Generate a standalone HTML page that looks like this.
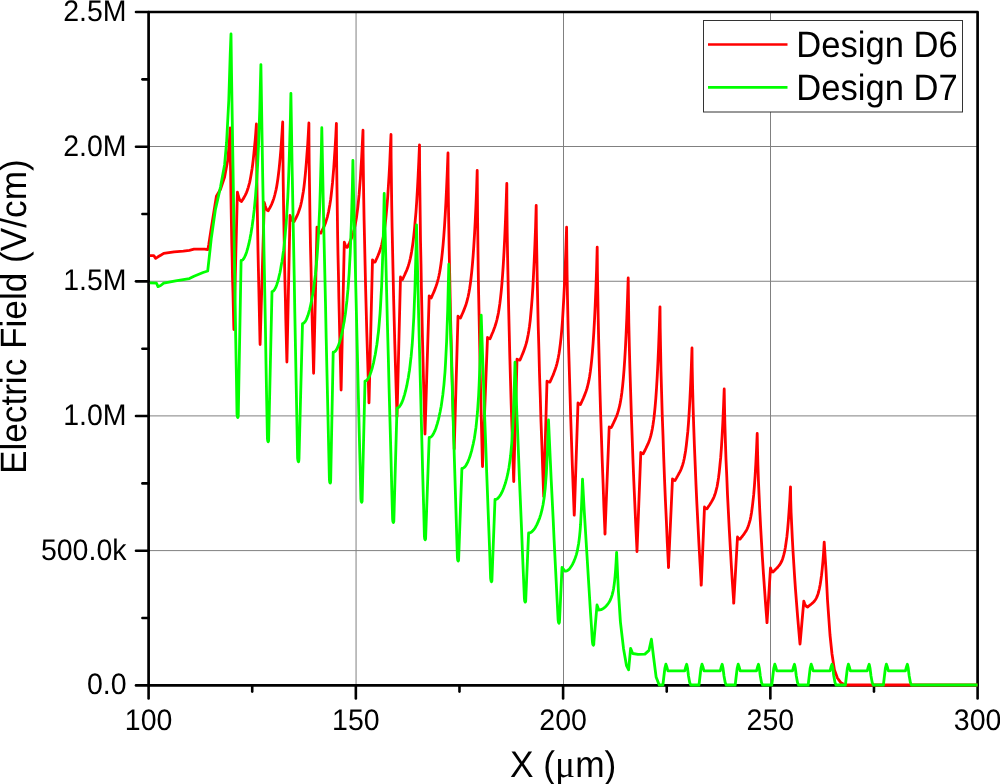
<!DOCTYPE html>
<html><head><meta charset="utf-8"><title>Electric Field</title>
<style>html,body{margin:0;padding:0;background:#fff;}svg{display:block;font-family:"Liberation Sans", Arial, Helvetica, sans-serif;text-rendering:geometricPrecision;}</style>
</head><body>
<svg width="1000" height="784" viewBox="0 0 1000 784">
<rect width="1000" height="784" fill="#fff"/>
<line x1="148.6" y1="146.50" x2="977.6" y2="146.50" stroke="#808080" stroke-width="1"/>
<line x1="148.6" y1="281.25" x2="977.6" y2="281.25" stroke="#808080" stroke-width="1"/>
<line x1="148.6" y1="415.90" x2="977.6" y2="415.90" stroke="#808080" stroke-width="1"/>
<line x1="148.6" y1="550.60" x2="977.6" y2="550.60" stroke="#808080" stroke-width="1"/>
<line x1="356.05" y1="12.0" x2="356.05" y2="685.4" stroke="#808080" stroke-width="1"/>
<line x1="563.50" y1="12.0" x2="563.50" y2="685.4" stroke="#808080" stroke-width="1"/>
<line x1="770.50" y1="12.0" x2="770.50" y2="685.4" stroke="#808080" stroke-width="1"/>
<rect x="148.6" y="12.0" width="829.00" height="673.40" fill="none" stroke="#000" stroke-width="2.7" stroke-linejoin="round"/>
<line x1="136.00" y1="685.40" x2="148.6" y2="685.40" stroke="#000" stroke-width="2.6" stroke-linecap="round"/>
<line x1="142.40" y1="618.06" x2="148.6" y2="618.06" stroke="#000" stroke-width="2.6" stroke-linecap="round"/>
<line x1="136.00" y1="550.72" x2="148.6" y2="550.72" stroke="#000" stroke-width="2.6" stroke-linecap="round"/>
<line x1="142.40" y1="483.38" x2="148.6" y2="483.38" stroke="#000" stroke-width="2.6" stroke-linecap="round"/>
<line x1="136.00" y1="416.04" x2="148.6" y2="416.04" stroke="#000" stroke-width="2.6" stroke-linecap="round"/>
<line x1="142.40" y1="348.70" x2="148.6" y2="348.70" stroke="#000" stroke-width="2.6" stroke-linecap="round"/>
<line x1="136.00" y1="281.36" x2="148.6" y2="281.36" stroke="#000" stroke-width="2.6" stroke-linecap="round"/>
<line x1="142.40" y1="214.02" x2="148.6" y2="214.02" stroke="#000" stroke-width="2.6" stroke-linecap="round"/>
<line x1="136.00" y1="146.68" x2="148.6" y2="146.68" stroke="#000" stroke-width="2.6" stroke-linecap="round"/>
<line x1="142.40" y1="79.34" x2="148.6" y2="79.34" stroke="#000" stroke-width="2.6" stroke-linecap="round"/>
<line x1="136.00" y1="12.00" x2="148.6" y2="12.00" stroke="#000" stroke-width="2.6" stroke-linecap="round"/>
<line x1="148.60" y1="685.4" x2="148.60" y2="698.40" stroke="#000" stroke-width="2.6" stroke-linecap="round"/>
<line x1="252.22" y1="685.4" x2="252.22" y2="691.60" stroke="#000" stroke-width="2.6" stroke-linecap="round"/>
<line x1="355.85" y1="685.4" x2="355.85" y2="698.40" stroke="#000" stroke-width="2.6" stroke-linecap="round"/>
<line x1="459.48" y1="685.4" x2="459.48" y2="691.60" stroke="#000" stroke-width="2.6" stroke-linecap="round"/>
<line x1="563.10" y1="685.4" x2="563.10" y2="698.40" stroke="#000" stroke-width="2.6" stroke-linecap="round"/>
<line x1="666.73" y1="685.4" x2="666.73" y2="691.60" stroke="#000" stroke-width="2.6" stroke-linecap="round"/>
<line x1="770.35" y1="685.4" x2="770.35" y2="698.40" stroke="#000" stroke-width="2.6" stroke-linecap="round"/>
<line x1="873.98" y1="685.4" x2="873.98" y2="691.60" stroke="#000" stroke-width="2.6" stroke-linecap="round"/>
<line x1="977.60" y1="685.4" x2="977.60" y2="698.40" stroke="#000" stroke-width="2.6" stroke-linecap="round"/>
<path d="M149.9 255.7L153.8 255.7L155.7 258.3L158.0 256.8L161.1 255.0L163.7 253.4L174.1 251.8L183.3 251.2L189.4 250.3L194.0 249.2L204.7 249.2L207.7 249.7L208.7 245.0L211.3 228.0L216.4 196.3L220.5 189.2L224.6 177.0L227.7 160.6L229.3 142.2L230.2 128.0L230.3 144.5L230.4 161.1L230.7 177.6L230.9 194.2L231.2 210.7L231.5 227.2L231.8 243.8L232.2 260.3L232.5 276.9L233.0 293.4L233.4 310.0L233.8 326.5L233.9 328.8L233.9 329.5L233.9 328.8L234.0 326.5L237.4 192.2L238.4 196.3L239.4 199.2L240.5 200.9L241.5 201.5L242.1 200.5L242.7 199.6L243.4 198.6L244.0 197.5L244.6 196.4L245.2 195.3L245.8 194.0L246.5 192.6L247.1 191.0L247.7 189.3L248.3 187.3L248.9 185.1L249.6 182.6L250.2 179.7L250.8 176.5L251.4 172.9L252.1 168.8L252.7 164.2L253.3 159.1L253.9 153.5L254.5 147.2L255.2 140.2L255.8 132.5L256.4 124.0L256.4 124.0L256.5 142.1L256.6 160.3L256.9 178.4L257.1 196.5L257.4 214.7L257.7 232.8L258.0 250.9L258.4 269.1L258.8 287.2L259.2 305.3L259.6 323.5L260.0 341.6L260.1 343.9L260.1 344.6L260.1 343.9L260.2 341.6L264.3 202.5L265.3 206.1L266.2 208.7L267.2 210.3L268.2 210.8L268.8 209.7L269.4 208.6L270.0 207.5L270.6 206.3L271.2 205.1L271.8 203.8L272.4 202.4L273.0 200.8L273.6 199.1L274.2 197.2L274.8 195.0L275.4 192.5L276.1 189.6L276.7 186.4L277.3 182.8L277.9 178.7L278.5 174.0L279.1 168.8L279.7 162.9L280.3 156.4L280.9 149.1L281.5 140.9L282.1 131.9L282.7 122.0L282.7 122.0L282.8 141.8L283.0 161.5L283.2 181.2L283.5 201.0L283.8 220.8L284.2 240.5L284.5 260.2L284.9 280.0L285.4 299.8L285.8 319.5L286.3 339.2L286.8 359.0L286.9 361.2L286.9 362.0L286.9 361.2L287.0 359.0L290.0 215.4L291.0 218.1L292.1 220.1L293.1 221.2L294.1 221.6L294.7 220.4L295.3 219.2L296.0 218.0L296.6 216.7L297.2 215.4L297.8 214.0L298.4 212.5L299.0 210.8L299.6 209.0L300.3 206.9L300.9 204.5L301.5 201.8L302.1 198.7L302.7 195.2L303.4 191.2L304.0 186.7L304.6 181.5L305.2 175.7L305.8 169.2L306.4 161.9L307.0 153.6L307.7 144.5L308.3 134.3L308.9 123.0L308.9 123.0L309.0 143.6L309.2 164.2L309.5 184.8L309.8 205.4L310.1 226.0L310.5 246.7L311.0 267.3L311.4 287.9L311.9 308.5L312.4 329.1L313.0 349.7L313.5 370.3L313.6 372.6L313.6 373.3L313.6 372.6L313.7 370.3L317.0 227.1L317.9 229.7L318.9 231.6L319.9 232.7L320.8 233.1L321.4 231.8L322.1 230.5L322.8 229.2L323.4 227.8L324.1 226.4L324.7 224.9L325.4 223.2L326.0 221.4L326.6 219.4L327.3 217.1L327.9 214.5L328.6 211.6L329.2 208.2L329.9 204.4L330.6 200.0L331.2 195.0L331.8 189.3L332.5 182.9L333.1 175.6L333.8 167.3L334.4 158.1L335.1 147.7L335.8 136.2L336.4 123.3L336.4 123.3L336.5 145.3L336.7 167.2L337.0 189.2L337.3 211.2L337.6 233.2L338.0 255.1L338.5 277.1L338.9 299.1L339.4 321.1L339.9 343.1L340.5 365.0L341.0 387.0L341.1 389.2L341.1 390.0L341.1 389.2L341.2 387.0L344.3 242.2L345.1 244.5L345.8 246.1L346.6 247.1L347.3 247.4L348.0 246.0L348.6 244.7L349.3 243.3L349.9 241.9L350.6 240.4L351.2 238.8L351.9 237.1L352.5 235.2L353.2 233.1L353.8 230.8L354.5 228.1L355.1 225.1L355.8 221.6L356.5 217.5L357.1 212.9L357.8 207.6L358.4 201.6L359.1 194.7L359.7 186.9L360.4 178.0L361.0 168.1L361.7 156.8L362.3 144.3L363.0 130.2L363.0 130.2L363.1 152.7L363.4 175.2L363.7 197.6L364.1 220.1L364.6 242.5L365.1 265.0L365.6 287.5L366.2 309.9L366.8 332.4L367.5 354.8L368.2 377.3L368.9 399.8L368.9 402.0L369.0 402.8L369.0 402.0L369.1 399.8L372.5 259.8L373.1 260.8L373.8 261.6L374.4 262.1L375.0 262.2L375.7 260.8L376.3 259.3L377.0 257.9L377.7 256.3L378.3 254.8L379.0 253.1L379.7 251.3L380.3 249.3L381.0 247.1L381.7 244.6L382.3 241.8L383.0 238.5L383.7 234.8L384.3 230.5L385.0 225.5L385.7 219.8L386.3 213.3L387.0 205.8L387.7 197.2L388.3 187.5L389.0 176.5L389.7 164.1L390.3 150.1L391.0 134.5L391.0 134.5L391.1 157.8L391.4 181.0L391.7 204.2L392.1 227.5L392.6 250.8L393.1 274.0L393.6 297.2L394.2 320.5L394.8 343.8L395.5 367.0L396.2 390.2L396.9 413.5L396.9 415.8L397.0 416.5L397.0 415.8L397.1 413.5L400.5 277.0L401.0 278.1L401.5 278.9L402.0 279.3L402.5 279.5L403.2 278.0L403.9 276.5L404.6 275.0L405.3 273.4L406.0 271.8L406.8 270.1L407.5 268.2L408.2 266.2L408.9 263.9L409.6 261.4L410.3 258.5L411.0 255.1L411.7 251.3L412.4 246.8L413.1 241.7L413.8 235.7L414.5 228.8L415.2 220.9L416.0 211.9L416.7 201.6L417.4 189.9L418.1 176.6L418.8 161.6L419.5 144.8L419.5 144.8L419.6 168.6L419.9 192.5L420.2 216.3L420.5 240.2L421.0 264.0L421.4 287.9L421.9 311.7L422.4 335.6L423.0 359.4L423.6 383.3L424.3 407.1L424.9 431.0L425.0 433.2L425.0 434.0L425.0 433.2L425.1 431.0L429.2 295.8L429.8 296.7L430.2 297.4L430.8 297.9L431.2 298.0L431.9 296.4L432.6 294.8L433.3 293.2L434.0 291.6L434.7 289.9L435.4 288.1L436.1 286.1L436.8 284.0L437.5 281.7L438.2 279.0L438.9 276.0L439.6 272.5L440.3 268.4L441.0 263.7L441.7 258.2L442.4 251.9L443.1 244.6L443.8 236.1L444.5 226.3L445.2 215.2L445.9 202.4L446.6 187.9L447.3 171.5L448.0 153.0L448.0 153.0L448.1 177.4L448.4 201.8L448.8 226.2L449.2 250.7L449.7 275.1L450.2 299.5L450.7 323.9L451.4 348.3L452.0 372.8L452.7 397.2L453.4 421.6L454.2 446.0L454.2 448.2L454.2 449.0L454.3 448.2L454.3 446.0L458.0 316.2L458.6 317.0L459.2 317.6L459.9 317.9L460.5 318.0L461.2 316.4L461.9 314.8L462.6 313.2L463.3 311.6L464.0 309.9L464.7 308.1L465.4 306.2L466.1 304.2L466.8 301.8L467.5 299.2L468.2 296.2L468.9 292.7L469.6 288.7L470.3 284.0L471.0 278.5L471.7 272.1L472.4 264.7L473.1 256.1L473.8 246.2L474.5 234.8L475.2 221.7L475.9 206.7L476.6 189.7L477.2 170.5L477.2 170.5L477.4 194.9L477.6 219.3L477.9 243.8L478.2 268.2L478.6 292.6L479.1 317.0L479.6 341.4L480.1 365.8L480.6 390.2L481.2 414.7L481.8 439.1L482.4 463.5L482.5 465.8L482.5 466.5L482.6 465.8L482.6 463.5L487.5 337.5L488.1 338.0L488.8 338.4L489.4 338.7L490.0 338.8L490.7 337.1L491.4 335.5L492.1 333.8L492.8 332.2L493.5 330.4L494.2 328.6L494.9 326.7L495.6 324.5L496.3 322.2L497.0 319.5L497.7 316.4L498.4 312.9L499.1 308.7L499.8 303.9L500.5 298.2L501.2 291.6L501.9 283.8L502.6 274.8L503.3 264.3L504.0 252.2L504.7 238.3L505.4 222.4L506.1 204.2L506.8 183.5L506.8 183.5L506.9 208.1L507.2 232.7L507.6 257.2L508.1 281.8L508.6 306.4L509.2 331.0L509.8 355.6L510.5 380.2L511.2 404.8L512.0 429.3L512.8 453.9L513.6 478.5L513.7 480.8L513.7 481.5L513.8 480.8L513.8 478.5L517.0 359.2L517.8 359.6L518.5 359.8L519.2 360.0L520.0 360.0L520.7 358.4L521.4 356.8L522.0 355.2L522.7 353.6L523.4 351.9L524.1 350.1L524.7 348.3L525.4 346.2L526.1 343.9L526.8 341.4L527.4 338.4L528.1 334.9L528.8 330.9L529.5 326.2L530.2 320.6L530.8 314.1L531.5 306.4L532.2 297.5L532.9 287.1L533.5 275.0L534.2 261.0L534.9 244.9L535.6 226.5L536.2 205.5L536.2 205.5L536.4 229.5L536.8 253.5L537.2 277.5L537.7 301.5L538.2 325.5L538.9 349.5L539.5 373.5L540.3 397.5L541.0 421.5L541.9 445.5L542.7 469.5L543.6 493.5L543.7 495.8L543.7 496.5L543.8 495.8L543.8 493.5L547.0 381.2L547.8 381.6L548.5 381.8L549.2 382.0L550.0 382.0L550.7 380.4L551.4 378.9L552.1 377.3L552.8 375.7L553.5 374.1L554.1 372.4L554.8 370.5L555.5 368.5L556.2 366.3L556.9 363.8L557.6 360.9L558.3 357.6L559.0 353.7L559.7 349.0L560.4 343.5L561.1 337.1L561.8 329.5L562.5 320.5L563.1 310.1L563.8 297.9L564.5 283.8L565.2 267.5L565.9 248.7L566.6 227.2L566.6 227.2L566.8 251.0L567.1 274.7L567.5 298.5L568.0 322.2L568.6 346.0L569.3 369.7L570.0 393.5L570.7 417.2L571.5 441.0L572.3 464.7L573.2 488.5L574.1 512.2L574.2 514.5L574.2 515.2L574.3 514.5L574.4 512.2L578.0 403.0L578.6 403.7L579.2 404.1L579.9 404.4L580.5 404.5L581.2 402.9L581.9 401.4L582.6 399.8L583.3 398.3L584.0 396.6L584.7 394.9L585.4 393.1L586.1 391.2L586.8 389.0L587.5 386.5L588.2 383.7L588.9 380.4L589.6 376.5L590.3 371.9L591.0 366.4L591.7 359.9L592.4 352.2L593.1 343.2L593.8 332.6L594.5 320.1L595.2 305.6L595.9 288.9L596.6 269.5L597.2 247.2L597.2 247.2L597.4 270.9L597.8 294.5L598.2 318.2L598.7 341.8L599.3 365.5L599.9 389.1L600.6 412.7L601.4 436.4L602.2 460.0L603.1 483.7L603.9 507.3L604.9 531.0L604.9 533.2L605.0 534.0L605.1 533.2L605.1 531.0L609.2 427.0L609.8 427.2L610.2 427.4L610.8 427.5L611.2 427.5L612.0 426.1L612.7 424.6L613.4 423.2L614.1 421.7L614.8 420.2L615.5 418.6L616.2 417.0L616.9 415.2L617.6 413.2L618.3 410.9L619.0 408.3L619.8 405.2L620.5 401.6L621.2 397.3L621.9 392.2L622.6 386.1L623.3 378.9L624.0 370.3L624.7 360.2L625.4 348.3L626.1 334.4L626.8 318.3L627.5 299.6L628.2 278.0L628.2 278.0L628.5 300.5L628.8 323.1L629.3 345.6L629.9 368.2L630.6 390.7L631.3 413.2L632.1 435.8L632.9 458.3L633.8 480.8L634.8 503.4L635.8 525.9L636.9 548.5L636.9 550.7L637.0 551.5L637.0 550.7L637.1 548.5L640.8 452.5L641.4 453.0L642.0 453.4L642.6 453.7L643.2 453.8L643.9 452.4L644.6 451.0L645.3 449.6L646.0 448.2L646.7 446.7L647.4 445.2L648.1 443.7L648.8 441.9L649.5 440.0L650.2 437.9L650.9 435.4L651.6 432.4L652.3 429.0L653.0 424.8L653.7 419.9L654.4 414.0L655.1 406.9L655.8 398.6L656.5 388.6L657.2 376.9L657.9 363.1L658.6 347.1L659.3 328.4L660.0 306.8L660.0 306.8L660.2 328.2L660.6 349.7L661.0 371.2L661.6 392.7L662.2 414.1L663.0 435.6L663.7 457.1L664.5 478.6L665.4 500.1L666.4 521.5L667.3 543.0L668.4 564.5L668.4 566.8L668.5 567.5L668.6 566.8L668.6 564.5L672.5 478.8L673.1 479.5L673.8 480.1L674.4 480.4L675.0 480.5L675.7 479.3L676.4 478.1L677.1 476.8L677.8 475.6L678.5 474.3L679.2 473.0L680.0 471.6L680.7 470.1L681.4 468.5L682.1 466.6L682.8 464.4L683.5 461.8L684.2 458.8L684.9 455.1L685.6 450.8L686.3 445.5L687.0 439.2L687.8 431.7L688.5 422.8L689.2 412.2L689.9 399.7L690.6 385.0L691.3 367.9L692.0 348.0L692.0 348.0L692.2 367.5L692.6 387.0L693.1 406.6L693.7 426.1L694.4 445.6L695.2 465.1L696.0 484.6L696.9 504.1L697.9 523.7L698.9 543.2L700.0 562.7L701.1 582.2L701.1 584.5L701.2 585.2L701.3 584.5L701.4 582.2L704.5 507.0L705.1 507.8L705.8 508.3L706.4 508.6L707.0 508.8L707.7 507.7L708.4 506.6L709.2 505.5L709.9 504.4L710.6 503.3L711.3 502.2L712.0 500.9L712.8 499.6L713.5 498.2L714.2 496.5L714.9 494.6L715.6 492.4L716.3 489.7L717.1 486.5L717.8 482.6L718.5 477.9L719.2 472.3L719.9 465.5L720.7 457.4L721.4 447.8L722.1 436.4L722.8 423.0L723.5 407.3L724.2 389.0L724.2 389.0L724.5 406.6L724.9 424.2L725.4 441.8L726.0 459.4L726.8 477.0L727.5 494.6L728.4 512.2L729.3 529.8L730.3 547.4L731.3 565.0L732.4 582.6L733.6 600.2L733.6 602.5L733.7 603.2L733.8 602.5L733.9 600.2L737.5 537.0L738.1 538.0L738.8 538.7L739.4 539.1L740.0 539.2L740.7 538.3L741.4 537.4L742.2 536.5L742.9 535.5L743.6 534.6L744.3 533.6L745.0 532.5L745.8 531.4L746.5 530.2L747.2 528.8L747.9 527.1L748.6 525.2L749.3 522.9L750.1 520.1L750.8 516.8L751.5 512.7L752.2 507.8L752.9 501.8L753.7 494.7L754.4 486.2L755.1 476.0L755.8 464.1L756.5 450.0L757.2 433.5L757.2 433.5L757.5 449.0L757.9 464.5L758.4 480.1L759.1 495.6L759.8 511.1L760.6 526.6L761.5 542.1L762.4 557.6L763.4 573.2L764.5 588.7L765.6 604.2L766.8 619.7L766.9 622.0L767.0 622.7L767.1 622.0L767.2 619.7L770.5 568.0L771.1 569.8L771.8 571.0L772.4 571.8L773.0 572.0L773.7 571.3L774.5 570.5L775.2 569.8L775.9 569.1L776.6 568.3L777.4 567.6L778.1 566.7L778.8 565.9L779.6 564.9L780.3 563.8L781.0 562.5L781.8 561.0L782.5 559.2L783.2 557.0L783.9 554.4L784.7 551.1L785.4 547.2L786.1 542.4L786.9 536.7L787.6 529.8L788.3 521.6L789.0 511.8L789.8 500.3L790.5 486.8L790.5 486.8L790.7 499.6L791.1 512.5L791.7 525.3L792.3 538.1L793.0 551.0L793.8 563.9L794.6 576.7L795.5 589.6L796.5 602.4L797.5 615.2L798.6 628.1L799.7 641.0L799.9 643.2L800.0 644.0L800.1 643.2L800.3 641.0L803.8 601.2L804.7 603.8L805.6 605.6L806.6 606.6L807.5 607.0L808.2 606.5L808.9 605.9L809.6 605.4L810.3 604.8L811.0 604.3L811.7 603.7L812.4 603.1L813.1 602.5L813.8 601.8L814.5 601.0L815.2 600.0L815.9 598.9L816.6 597.6L817.3 595.9L818.0 594.0L818.7 591.5L819.4 588.6L820.1 585.0L820.8 580.6L821.5 575.4L822.2 569.1L822.9 561.6L823.6 552.7L824.2 542.2L826.0 570.0L827.5 600.0L830.0 635.0L832.0 654.0L834.4 669.6L837.4 678.0L841.0 682.8L845.0 685.0L977.6 685.0" fill="none" stroke="#ff0000" stroke-width="2.8" stroke-linejoin="round"/>
<path d="M149.9 282.8L156.5 283.2L158.0 286.6L160.7 285.5L163.7 283.2L175.6 280.9L189.4 278.6L194.0 276.3L203.1 272.5L207.7 271.0L210.0 250.3L211.3 238.2L215.4 209.6L220.5 187.1L224.6 164.7L226.6 142.2L228.8 100.0L230.2 55.0L231.0 34.0L231.5 72.0L232.1 110.0L232.7 148.0L233.3 186.0L233.9 224.0L234.5 262.0L235.1 300.0L235.7 338.0L236.4 376.0L237.0 414.0L237.3 416.6L237.8 417.5L238.2 416.6L238.3 414.0L241.1 260.5L241.7 260.4L242.2 260.2L242.8 259.8L243.3 259.2L243.8 258.4L244.4 257.5L244.9 256.4L245.5 255.2L246.0 253.8L246.6 252.2L247.1 250.4L247.7 248.5L248.2 246.4L248.8 244.2L249.3 241.7L249.9 239.1L250.4 236.3L251.0 233.2L251.5 230.0L252.1 226.4L252.6 222.7L253.2 218.5L253.7 214.1L254.3 209.2L254.8 203.8L255.4 197.8L255.9 191.1L256.5 183.5L257.0 175.0L257.6 165.2L258.1 154.0L258.7 141.0L259.2 126.0L259.8 108.6L260.3 88.3L260.9 64.6L260.9 64.6L261.5 102.0L262.1 139.3L262.7 176.7L263.4 214.1L264.0 251.5L264.7 288.8L265.4 326.2L266.0 363.6L266.7 400.9L267.4 438.3L267.7 440.9L268.2 441.8L268.6 440.9L268.7 438.3L272.0 291.5L272.5 291.4L273.1 291.2L273.6 290.8L274.1 290.2L274.6 289.4L275.1 288.5L275.7 287.5L276.2 286.2L276.7 284.9L277.2 283.3L277.8 281.6L278.3 279.7L278.8 277.6L279.3 275.4L279.9 273.0L280.4 270.4L280.9 267.6L281.4 264.6L282.0 261.4L282.5 257.9L283.0 254.2L283.6 250.2L284.1 245.8L284.6 240.9L285.1 235.6L285.6 229.6L286.2 223.0L286.7 215.4L287.2 206.8L287.8 197.0L288.3 185.6L288.8 172.4L289.3 157.1L289.8 139.1L290.4 118.0L290.9 93.3L290.9 93.3L291.5 129.8L292.1 166.3L292.8 202.8L293.5 239.3L294.2 275.8L294.8 312.3L295.5 348.8L296.2 385.3L296.9 421.8L297.6 458.3L298.0 460.9L298.5 461.8L298.8 460.9L299.0 458.3L302.5 323.5L303.0 323.4L303.6 323.2L304.1 322.8L304.6 322.2L305.2 321.5L305.7 320.7L306.3 319.6L306.8 318.4L307.3 317.1L307.9 315.6L308.4 313.9L308.9 312.1L309.5 310.1L310.0 308.0L310.5 305.7L311.1 303.2L311.6 300.5L312.1 297.6L312.7 294.5L313.2 291.2L313.8 287.6L314.3 283.8L314.8 279.5L315.4 274.9L315.9 269.7L316.4 264.0L317.0 257.5L317.5 250.2L318.0 241.8L318.6 232.1L319.1 220.8L319.7 207.7L320.2 192.4L320.7 174.3L321.3 152.9L321.8 127.7L321.8 127.7L322.5 162.9L323.2 198.1L323.9 233.3L324.7 268.4L325.5 303.6L326.2 338.8L327.0 374.0L327.8 409.2L328.6 444.4L329.4 479.6L329.7 482.2L330.2 483.1L330.6 482.2L330.7 479.6L333.2 352.2L333.8 352.2L334.3 351.9L334.9 351.6L335.4 351.0L336.0 350.4L336.5 349.5L337.1 348.6L337.6 347.4L338.2 346.1L338.7 344.7L339.3 343.1L339.8 341.4L340.3 339.5L340.9 337.4L341.4 335.2L342.0 332.9L342.5 330.3L343.1 327.6L343.6 324.6L344.2 321.5L344.7 318.1L345.3 314.4L345.8 310.3L346.3 305.9L346.9 300.9L347.4 295.4L348.0 289.2L348.5 282.1L349.1 274.0L349.6 264.5L350.2 253.5L350.7 240.6L351.3 225.3L351.8 207.3L352.4 185.8L352.9 160.3L352.9 160.3L353.6 194.2L354.4 228.0L355.2 261.9L356.0 295.7L356.8 329.6L357.6 363.4L358.4 397.2L359.2 431.1L360.1 465.0L360.9 498.8L361.2 501.4L361.7 502.3L362.1 501.4L362.2 498.8L365.0 381.0L365.5 380.9L366.1 380.7L366.6 380.4L367.1 379.9L367.7 379.2L368.2 378.4L368.7 377.5L369.3 376.4L369.8 375.2L370.3 373.8L370.9 372.3L371.4 370.7L372.0 368.9L372.5 366.9L373.0 364.8L373.6 362.6L374.1 360.1L374.6 357.6L375.2 354.8L375.7 351.8L376.2 348.5L376.8 345.0L377.3 341.2L377.8 337.0L378.4 332.3L378.9 327.0L379.4 321.1L380.0 314.2L380.5 306.4L381.0 297.2L381.6 286.5L382.1 273.8L382.6 258.7L383.2 240.7L383.7 219.2L384.2 193.5L384.2 193.5L385.0 226.1L385.8 258.6L386.6 291.1L387.4 323.7L388.3 356.2L389.1 388.8L390.0 421.4L390.9 453.9L391.7 486.4L392.6 519.0L392.9 521.6L393.4 522.5L393.8 521.6L393.9 519.0L397.0 408.0L397.5 407.9L398.1 407.7L398.6 407.4L399.2 406.9L399.7 406.3L400.2 405.5L400.8 404.7L401.3 403.6L401.9 402.5L402.4 401.2L403.0 399.8L403.5 398.2L404.0 396.5L404.6 394.6L405.1 392.6L405.7 390.5L406.2 388.2L406.8 385.7L407.3 383.1L407.8 380.2L408.4 377.2L408.9 373.8L409.5 370.2L410.0 366.2L410.5 361.7L411.1 356.7L411.6 351.0L412.2 344.5L412.7 336.9L413.2 328.0L413.8 317.5L414.3 305.0L414.9 290.1L415.4 272.2L416.0 250.7L416.5 224.8L416.5 224.8L417.2 255.9L418.0 287.1L418.7 318.2L419.5 349.4L420.3 380.5L421.1 411.7L421.9 442.8L422.7 474.0L423.6 505.1L424.4 536.3L424.7 538.9L425.2 539.8L425.6 538.9L425.7 536.3L429.2 437.5L429.8 437.4L430.3 437.2L430.9 436.9L431.4 436.5L432.0 435.9L432.5 435.2L433.0 434.4L433.6 433.5L434.1 432.4L434.7 431.2L435.2 429.9L435.8 428.5L436.3 426.9L436.8 425.2L437.4 423.4L437.9 421.4L438.5 419.3L439.0 417.1L439.5 414.6L440.1 412.0L440.6 409.2L441.2 406.2L441.7 402.8L442.2 399.1L442.8 395.0L443.3 390.4L443.9 385.1L444.4 379.1L445.0 372.0L445.5 363.6L446.0 353.7L446.6 341.8L447.1 327.6L447.7 310.4L448.2 289.5L448.8 264.2L448.8 264.2L449.5 293.6L450.3 322.9L451.2 352.2L452.1 381.6L452.9 410.9L453.8 440.2L454.7 469.6L455.6 498.9L456.5 528.2L457.4 557.5L457.7 560.2L458.2 561.0L458.6 560.2L458.7 557.5L461.9 468.4L462.4 468.3L463.0 468.2L463.5 467.9L464.0 467.5L464.6 467.1L465.1 466.5L465.7 465.8L466.2 465.0L466.7 464.0L467.3 463.0L467.8 461.9L468.3 460.7L468.9 459.3L469.4 457.9L470.0 456.3L470.5 454.6L471.0 452.8L471.6 450.9L472.1 448.8L472.6 446.5L473.2 444.1L473.7 441.5L474.3 438.7L474.8 435.5L475.3 432.0L475.9 428.0L476.4 423.4L476.9 418.1L477.5 412.0L478.0 404.6L478.6 395.9L479.1 385.3L479.6 372.6L480.2 357.1L480.7 338.2L481.2 315.2L481.2 315.2L482.1 341.5L483.0 367.8L483.9 394.1L484.8 420.4L485.8 446.8L486.7 473.1L487.7 499.4L488.7 525.7L489.7 552.0L490.6 578.3L491.0 580.9L491.5 581.8L491.9 580.9L492.0 578.3L495.0 499.5L495.6 499.5L496.1 499.3L496.7 499.1L497.2 498.8L497.8 498.3L498.3 497.8L498.9 497.2L499.4 496.5L500.0 495.7L500.6 494.8L501.1 493.8L501.7 492.8L502.2 491.6L502.8 490.3L503.3 489.0L503.9 487.5L504.4 485.9L505.0 484.3L505.6 482.5L506.1 480.5L506.7 478.4L507.2 476.2L507.8 473.7L508.3 470.9L508.9 467.9L509.4 464.4L510.0 460.4L510.6 455.8L511.1 450.3L511.7 443.8L512.2 436.0L512.8 426.5L513.3 414.9L513.9 400.8L514.4 383.5L515.0 362.2L515.0 362.2L515.8 385.9L516.7 409.5L517.7 433.2L518.6 456.8L519.5 480.4L520.5 504.1L521.5 527.7L522.4 551.3L523.4 575.0L524.4 598.6L524.7 601.2L525.3 602.1L525.7 601.2L525.8 598.6L528.6 533.0L529.2 533.0L529.7 532.9L530.3 532.7L530.8 532.4L531.4 532.1L531.9 531.7L532.5 531.2L533.0 530.6L533.6 530.0L534.1 529.3L534.7 528.5L535.2 527.6L535.8 526.7L536.3 525.7L536.9 524.6L537.4 523.4L538.0 522.2L538.5 520.8L539.1 519.4L539.7 517.9L540.2 516.2L540.8 514.4L541.3 512.4L541.9 510.2L542.4 507.8L543.0 505.0L543.5 501.8L544.1 498.0L544.6 493.6L545.2 488.3L545.7 481.9L546.3 474.0L546.8 464.4L547.4 452.6L547.9 438.0L548.5 420.0L548.5 420.0L549.4 440.0L550.3 460.0L551.2 479.9L552.2 499.9L553.2 519.9L554.1 539.9L555.1 559.9L556.1 579.8L557.1 599.8L558.1 619.8L558.5 622.4L559.0 623.3L559.4 622.4L559.6 619.8L562.0 567.5L565.0 571.2L565.5 571.2L566.0 571.1L566.5 571.0L566.9 570.8L567.4 570.5L567.9 570.2L568.4 569.8L568.9 569.4L569.4 568.9L569.9 568.3L570.3 567.7L570.8 567.0L571.3 566.3L571.8 565.5L572.3 564.6L572.8 563.7L573.3 562.7L573.8 561.7L574.2 560.5L574.7 559.3L575.2 558.0L575.7 556.6L576.2 555.1L576.7 553.3L577.2 551.4L577.6 549.2L578.1 546.6L578.6 543.7L579.1 540.1L579.6 535.8L580.1 530.6L580.6 524.2L581.0 516.3L581.5 506.5L582.0 494.4L582.5 479.2L582.5 479.2L583.4 495.5L584.3 511.8L585.3 528.0L586.3 544.3L587.3 560.5L588.3 576.8L589.3 593.0L590.3 609.3L591.4 625.5L592.4 641.8L592.8 644.4L593.4 645.3L593.8 644.4L593.9 641.8L597.0 605.0L598.8 610.0L599.2 610.0L599.7 609.9L600.2 609.8L600.7 609.7L601.2 609.6L601.7 609.4L602.2 609.1L602.7 608.9L603.2 608.6L603.7 608.2L604.2 607.8L604.7 607.4L605.2 607.0L605.7 606.5L606.2 606.0L606.7 605.4L607.2 604.8L607.7 604.2L608.2 603.5L608.7 602.8L609.2 602.0L609.7 601.1L610.2 600.2L610.6 599.1L611.1 598.0L611.6 596.6L612.1 595.1L612.6 593.2L613.1 591.0L613.6 588.4L614.1 585.1L614.6 581.1L615.1 576.1L615.6 569.9L616.1 562.1L616.6 552.3L618.4 591.2L620.4 621.8L623.5 648.4L626.5 665.7L628.6 669.8L630.6 648.4L632.7 653.5L638.0 654.3L644.9 654.1L649.0 650.4L651.4 639.2L653.5 656.5L656.1 676.9L659.2 685.0L662.9 685.0L663.7 678.0L664.9 668.0L665.9 664.2L666.7 666.5L667.9 670.8L684.7 670.8L685.9 666.5L686.7 664.2L687.5 668.0L688.5 676.0L689.7 682.5L690.7 685.0L699.0 685.0L699.8 678.0L701.0 668.0L702.0 664.2L702.8 666.5L704.0 670.8L720.2 670.8L721.4 666.5L722.2 664.2L723.0 668.0L724.0 676.0L725.2 682.5L726.2 685.0L735.2 685.0L736.0 678.0L737.2 668.0L738.2 664.2L739.0 666.5L740.2 670.8L756.5 670.8L757.7 666.5L758.5 664.2L759.3 668.0L760.3 676.0L761.5 682.5L762.5 685.0L771.8 685.0L772.6 678.0L773.8 668.0L774.8 664.2L775.6 666.5L776.8 670.8L792.5 670.8L793.7 666.5L794.5 664.2L795.3 668.0L796.3 676.0L797.5 682.5L798.5 685.0L808.2 685.0L809.0 678.0L810.2 668.0L811.2 664.2L812.0 666.5L813.2 670.8L830.0 670.8L831.2 666.5L832.0 664.2L832.8 668.0L833.8 676.0L835.0 682.5L836.0 685.0L845.4 685.0L846.2 678.0L847.4 668.0L848.4 664.2L849.2 666.5L850.4 670.8L867.2 670.8L868.4 666.5L869.2 664.2L870.0 668.0L871.0 676.0L872.2 682.5L873.2 685.0L883.4 685.0L884.2 678.0L885.4 668.0L886.4 664.2L887.2 666.5L888.4 670.8L905.4 670.8L906.6 666.5L907.4 664.2L908.2 668.0L909.2 676.0L910.4 682.5L911.4 685.0L977.6 685.0" fill="none" stroke="#00ff00" stroke-width="2.8" stroke-linejoin="round"/>
<text transform="translate(126.5 694.40) scale(1 1.04)" text-anchor="end" font-size="28.5">0.0</text>
<text transform="translate(126.5 559.72) scale(1 1.04)" text-anchor="end" font-size="28.5">500.0k</text>
<text transform="translate(126.5 425.04) scale(1 1.04)" text-anchor="end" font-size="28.5">1.0M</text>
<text transform="translate(126.5 290.36) scale(1 1.04)" text-anchor="end" font-size="28.5">1.5M</text>
<text transform="translate(126.5 155.68) scale(1 1.04)" text-anchor="end" font-size="28.5">2.0M</text>
<text transform="translate(126.5 21.00) scale(1 1.04)" text-anchor="end" font-size="28.5">2.5M</text>
<text transform="translate(148.60 730.2) scale(1 1.04)" text-anchor="middle" font-size="28.5">100</text>
<text transform="translate(355.85 730.2) scale(1 1.04)" text-anchor="middle" font-size="28.5">150</text>
<text transform="translate(563.10 730.2) scale(1 1.04)" text-anchor="middle" font-size="28.5">200</text>
<text transform="translate(770.35 730.2) scale(1 1.04)" text-anchor="middle" font-size="28.5">250</text>
<text transform="translate(977.60 730.2) scale(1 1.04)" text-anchor="middle" font-size="28.5">300</text>
<text transform="translate(563.2 776.6) scale(1 1.05)" text-anchor="middle" font-size="35.3">X (<tspan font-family="&quot;Liberation Serif&quot;, serif" font-size="37.5">&#956;</tspan>m)</text>
<text transform="translate(26.2 316.7) rotate(-90) scale(1 1.04)" text-anchor="middle" font-size="35.2">Electric Field (V/cm)</text>
<rect x="703.5" y="20.5" width="259" height="91.5" fill="#fff" stroke="#333" stroke-width="1"/>
<line x1="708" y1="44.5" x2="787.5" y2="44.5" stroke="#ff0000" stroke-width="2.7"/>
<line x1="708" y1="87.4" x2="787.5" y2="87.4" stroke="#00ff00" stroke-width="2.7"/>
<text transform="translate(796.3 57) scale(1 1.06)" font-size="34.6">Design D6</text>
<text transform="translate(796.3 100) scale(1 1.06)" font-size="34.6">Design D7</text>
</svg>
</body></html>
